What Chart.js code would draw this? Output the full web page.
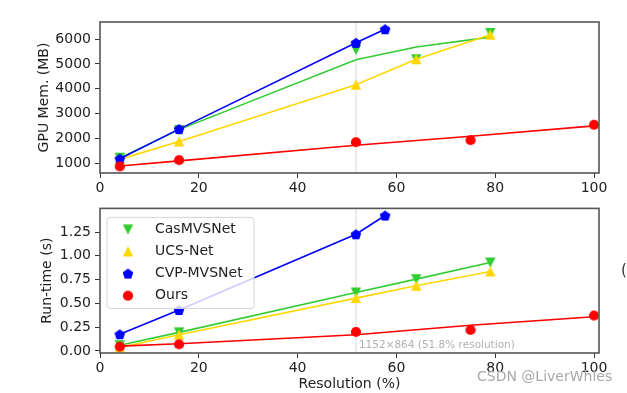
<!DOCTYPE html>
<html>
<head>
<meta charset="utf-8">
<script src="https://cdn.jsdelivr.net/npm/chart.js@4.4.0/dist/chart.umd.min.js"></script>
<style>
  html, body { margin: 0; padding: 0; background: #fff; }
  body { width: 627px; height: 393px; position: relative; overflow: hidden; font-family: 'DejaVu Sans', sans-serif; }
  canvas { position: absolute; left: 0; }
  #memChart { top: 0; }
  #timeChart { top: 196px; }
  .mark { position: absolute; white-space: nowrap; }
</style>
</head>
<body>
<canvas id="memChart" width="627" height="196"></canvas>
<canvas id="timeChart" width="627" height="197"></canvas>
<div class="mark" style="left:477px;top:368px;font-size:14px;color:#a8a8a8;">CSDN @LiverWhles</div>
<div class="mark" style="left:621px;top:261px;font-size:15px;color:#333;">(</div>
<script>
// resolution (%) per method
const resCas = [4, 16, 51.8, 64, 79];
const resUcs = [4, 16, 51.8, 64, 79];
const resCvp = [4, 16, 51.8, 57.7];
const resOurs = [4, 16, 51.8, 75, 100];

// GPU memory (MB): markers and the drawn curves
const memCas = [1220, 2330, 5570, 5190, 6250];
const memCasLine = [1200, 2350, 5165, 5680, 6080];
const memUcs = [1150, 1870, 4160, 5190, 6180];
const memCvp = [1175, 2370, 5850, 6400];
const memOurs = [865, 1120, 1845, 1925, 2545];
const memOursLine = [880, 1090, 1720, 2080, 2500];

// run-time (s)
const timeCas = [0.06, 0.195, 0.615, 0.755, 0.93];
const timeUcs = [0.035, 0.17, 0.555, 0.685, 0.835];
const timeCvp = [0.175, 0.43, 1.227, 1.424];
const timeOurs = [0.045, 0.07, 0.2, 0.22, 0.372];
const timeOursLine = [0.05, 0.075, 0.17, 0.27, 0.36];

// tick labels
const resTicks = [0, 20, 40, 60, 80, 100];
const memTicks = [1000, 2000, 3000, 4000, 5000, 6000];
const timeTicks = [0, 0.25, 0.5, 0.75, 1.0, 1.25];

const names = ['CasMVSNet', 'UCS-Net', 'CVP-MVSNet', 'Ours'];
const markRes = 51.8;
const markText = '1152\u00d7864 (51.8% resolution)';

const GREEN = '#32cd32', GOLD = '#ffd700', BLUE = '#0000ff', RED = '#ff0000';
const font = { family: 'DejaVu Sans', size: 14 };

// marker images (matplotlib style v, ^, p, o)
function marker(shape, color) {
  const c = document.createElement('canvas');
  c.width = 12; c.height = 12;
  const g = c.getContext('2d');
  g.fillStyle = color;
  g.beginPath();
  if (shape === 'circle') {
    g.arc(6, 6, 5.1, 0, Math.PI * 2);
  } else if (shape === 'up') {
    g.moveTo(6, 0.8); g.lineTo(11.2, 11); g.lineTo(0.8, 11);
  } else if (shape === 'down') {
    g.moveTo(6, 11.2); g.lineTo(11.2, 1); g.lineTo(0.8, 1);
  } else {
    for (let i = 0; i < 5; i++) {
      const a = -Math.PI / 2 + i * 2 * Math.PI / 5;
      g.lineTo(6 + 5.6 * Math.cos(a), 6.5 + 5.6 * Math.sin(a));
    }
  }
  g.closePath();
  g.fill();
  return c;
}
const mkCas = marker('down', GREEN);
const mkUcs = marker('up', GOLD);
const mkCvp = marker('penta', BLUE);
const mkOurs = marker('circle', RED);

function xy(xs, ys) { return xs.map((x, i) => ({ x: x, y: ys[i] })); }

function lineSet(xs, ys, color, order) {
  return { data: xy(xs, ys), showLine: true, borderColor: color, borderWidth: 1.6,
           pointRadius: 0, pointHoverRadius: 0, order: order };
}
function dotSet(label, xs, ys, img, order) {
  return { label: label, data: xy(xs, ys), showLine: false, pointStyle: img,
           pointRadius: 5, order: order };
}

// light marker line + frame round the plot
const framePlugin = {
  id: 'frame',
  beforeDatasetsDraw(chart) {
    const { ctx, chartArea: a } = chart;
    const px = chart.scales.x.getPixelForValue(markRes);
    ctx.save();
    ctx.strokeStyle = '#e6e6e6';
    ctx.lineWidth = 1.5;
    ctx.beginPath(); ctx.moveTo(px, a.top); ctx.lineTo(px, a.bottom); ctx.stroke();
    ctx.restore();
  },
  afterDraw(chart) {
    const { ctx, chartArea: a } = chart;
    ctx.save();
    ctx.strokeStyle = '#555';
    ctx.lineWidth = 1.6;
    ctx.strokeRect(a.left, a.top, a.right - a.left, a.bottom - a.top);
    ctx.restore();
  }
};

// legend box inside the lower plot
const legendPlugin = {
  id: 'boxLegend',
  afterDatasetsDraw(chart) {
    const { ctx, chartArea: a } = chart;
    const items = chart.data.datasets.filter(d => d.label);
    items.sort((p, q) => names.indexOf(p.label) - names.indexOf(q.label));
    const x0 = a.left + 7, y0 = a.top + 9, w = 147, h = 91, r = 3;
    ctx.save();
    ctx.beginPath();
    ctx.moveTo(x0 + r, y0);
    ctx.arcTo(x0 + w, y0, x0 + w, y0 + h, r);
    ctx.arcTo(x0 + w, y0 + h, x0, y0 + h, r);
    ctx.arcTo(x0, y0 + h, x0, y0, r);
    ctx.arcTo(x0, y0, x0 + w, y0, r);
    ctx.closePath();
    ctx.fillStyle = 'rgba(255,255,255,0.8)';
    ctx.fill();
    ctx.strokeStyle = '#d4d4d4';
    ctx.lineWidth = 1;
    ctx.stroke();
    ctx.font = '14px "DejaVu Sans"';
    ctx.fillStyle = '#222';
    ctx.textBaseline = 'middle';
    items.forEach((d, i) => {
      const cy = y0 + 12 + i * 22.1;
      ctx.drawImage(d.pointStyle, x0 + 21 - 6, cy - 6);
      ctx.fillText(d.label, x0 + 48, cy);
    });
    ctx.restore();
  }
};

// resolution note next to the marker line
const notePlugin = {
  id: 'note',
  afterDatasetsDraw(chart) {
    const { ctx, chartArea: a } = chart;
    const px = chart.scales.x.getPixelForValue(markRes);
    ctx.save();
    ctx.font = '10.5px "DejaVu Sans"';
    ctx.fillStyle = '#b0b0b0';
    ctx.textBaseline = 'middle';
    ctx.fillText(markText, px + 3, a.bottom - 8);
    ctx.restore();
  }
};

function makeScales(yTicks, yMin, yMax, yTitle, titlePad, fmt, xHeight, xTitle) {
  return {
    x: {
      type: 'linear', min: 0, max: 101,
      afterBuildTicks: s => { s.ticks = resTicks.map(v => ({ value: v })); },
      afterFit: s => { s.height = xHeight; },
      grid: { drawOnChartArea: false, drawTicks: true, tickLength: 5, color: '#333' },
      border: { display: false },
      ticks: { font: font, color: '#222', padding: 2, maxRotation: 0 },
      title: { display: xTitle, text: 'Resolution (%)', font: font, color: '#222',
               padding: { top: 0, bottom: 0 } }
    },
    y: {
      type: 'linear', min: yMin, max: yMax,
      afterBuildTicks: s => { s.ticks = yTicks.map(v => ({ value: v })); },
      afterFit: s => { s.width = 100; },
      grid: { drawOnChartArea: false, drawTicks: true, tickLength: 5, color: '#333' },
      border: { display: false },
      ticks: { font: font, color: '#222', padding: 4, callback: fmt },
      title: { display: true, text: yTitle, font: font, color: '#222',
               padding: { top: titlePad, bottom: 0 } }
    }
  };
}

const common = {
  responsive: false,
  animation: false,
  events: [],
  plugins: { legend: { display: false }, tooltip: { enabled: false } }
};

new Chart(document.getElementById('memChart'), {
  type: 'scatter',
  data: {
    datasets: [
      lineSet(resCas, memCasLine, GREEN, 7),
      dotSet(names[0], resCas, memCas, mkCas, 6),
      lineSet(resUcs, memUcs, GOLD, 5),
      dotSet(names[1], resUcs, memUcs, mkUcs, 4),
      lineSet(resCvp, memCvp, BLUE, 3),
      dotSet(names[2], resCvp, memCvp, mkCvp, 2),
      lineSet(resOurs, memOursLine, RED, 1),
      dotSet(names[3], resOurs, memOurs, mkOurs, 0)
    ]
  },
  options: Object.assign({}, common, {
    layout: { padding: { top: 22, right: 28, left: 0, bottom: 0 } },
    scales: makeScales(memTicks, 600, 6690, 'GPU Mem. (MB)', 36, v => String(v), 23, false)
  }),
  plugins: [framePlugin]
});

new Chart(document.getElementById('timeChart'), {
  type: 'scatter',
  data: {
    datasets: [
      lineSet(resCas, timeCas, GREEN, 7),
      dotSet(names[0], resCas, timeCas, mkCas, 6),
      lineSet(resUcs, timeUcs, GOLD, 5),
      dotSet(names[1], resUcs, timeUcs, mkUcs, 4),
      lineSet(resCvp, timeCvp, BLUE, 3),
      dotSet(names[2], resCvp, timeCvp, mkCvp, 2),
      lineSet(resOurs, timeOursLine, RED, 1),
      dotSet(names[3], resOurs, timeOurs, mkOurs, 0)
    ]
  },
  options: Object.assign({}, common, {
    layout: { padding: { top: 6, right: 28, left: 0, bottom: 0 } },
    scales: makeScales(timeTicks, -0.022, 1.499, 'Run-time (s)', 39, v => v.toFixed(2), 40, true)
  }),
  plugins: [framePlugin, notePlugin, legendPlugin]
});
</script>
</body>
</html>
